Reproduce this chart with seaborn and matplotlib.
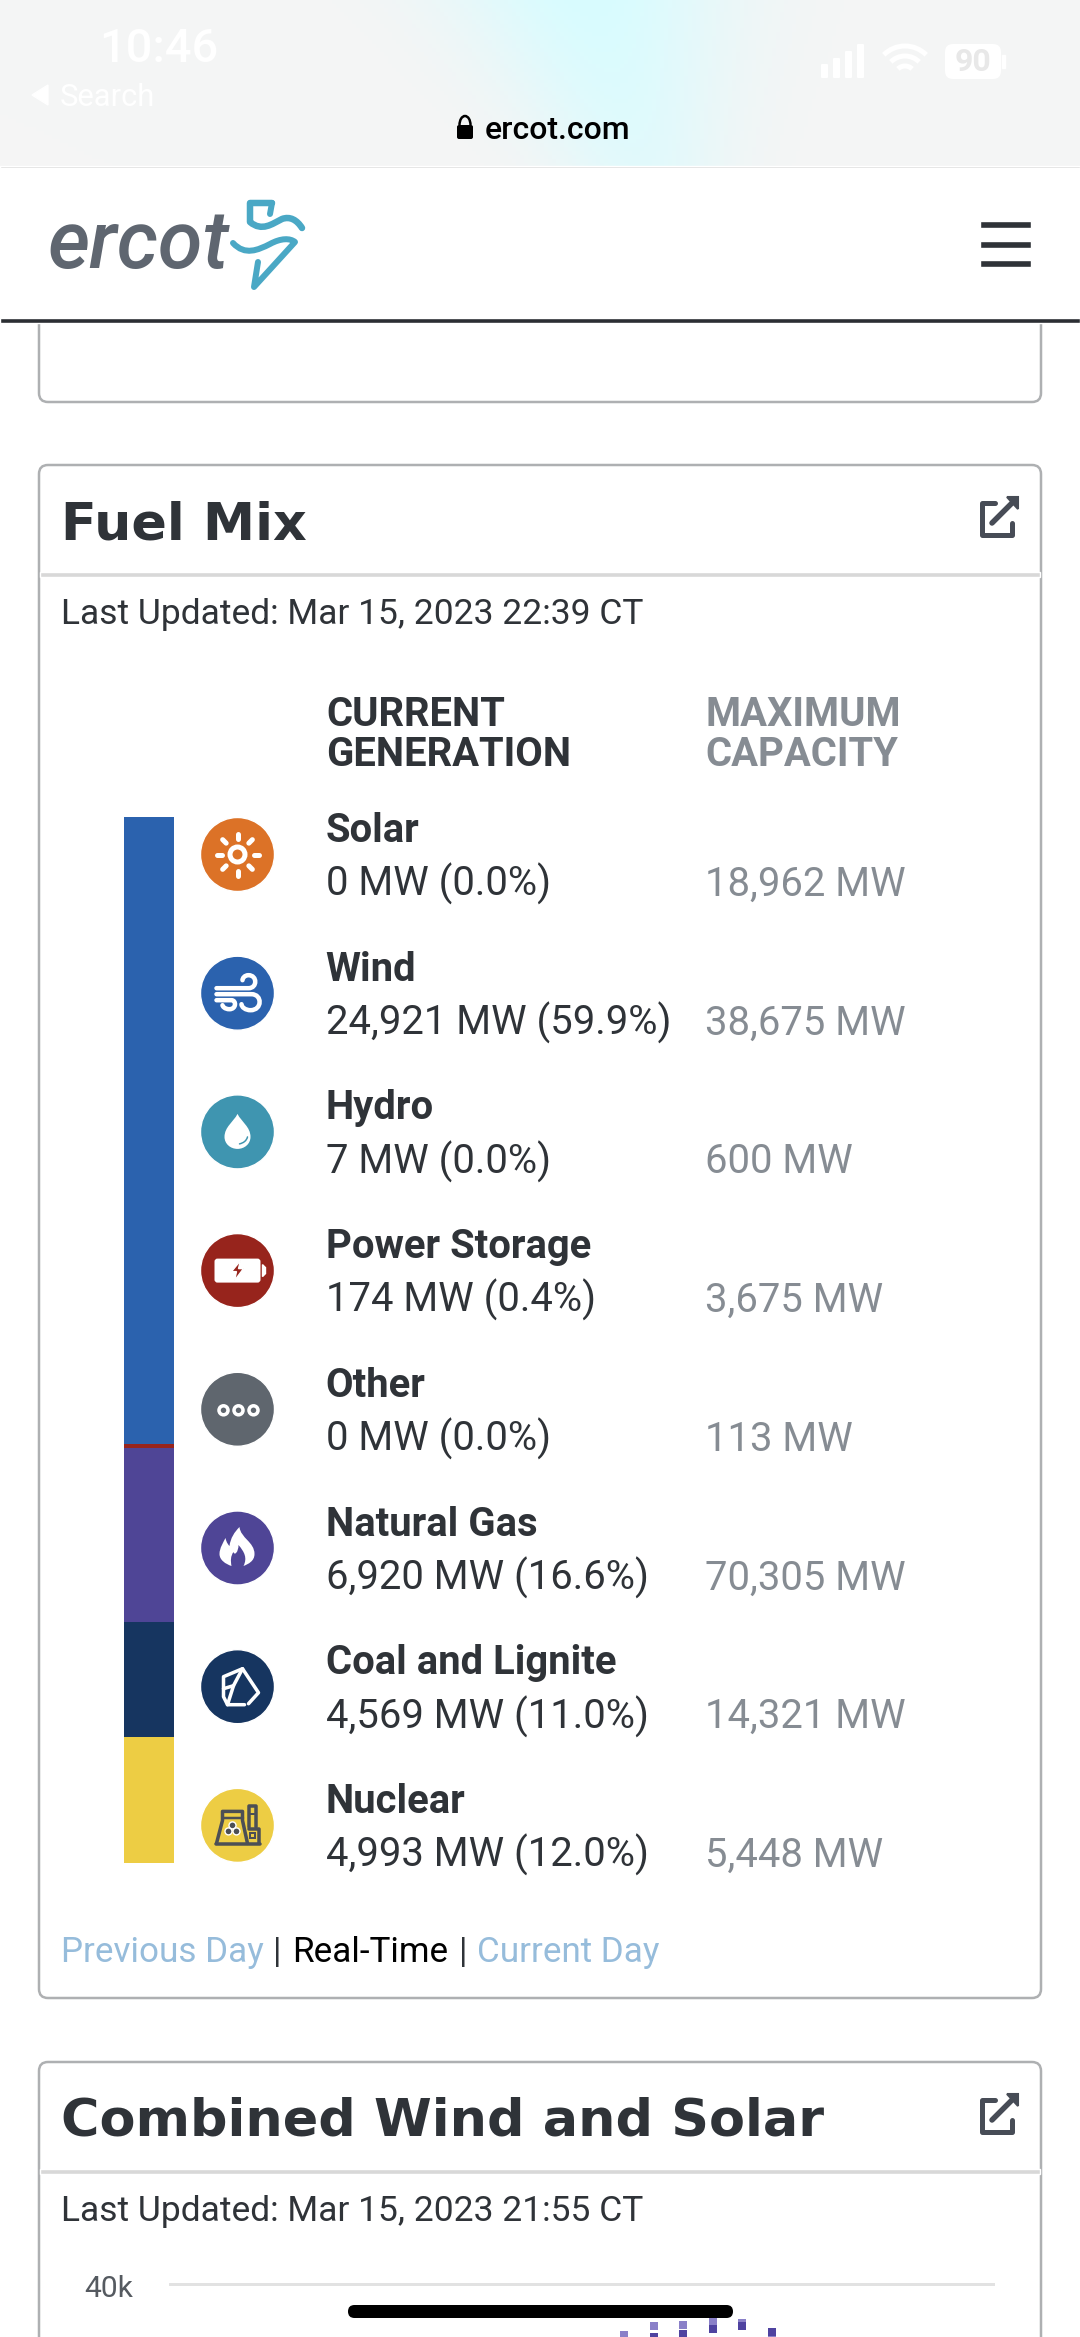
import numpy as np
import pandas as pd
import matplotlib
matplotlib.use("Agg")
import matplotlib.pyplot as plt
import seaborn as sns
from matplotlib.patches import Circle, FancyBboxPatch, PathPatch, Polygon, Rectangle, Arc
from matplotlib.path import Path
from matplotlib.colors import to_rgb
from matplotlib.transforms import ScaledTranslation

# Fuel mix values
fuels = ["Solar", "Wind", "Hydro", "Power Storage", "Other", "Natural Gas", "Coal and Lignite", "Nuclear"]
current_mw = [0, 24921, 7, 174, 0, 6920, 4569, 4993]
current_pct = ["0.0", "59.9", "0.0", "0.4", "0.0", "16.6", "11.0", "12.0"]
max_capacity = [18962, 38675, 600, 3675, 113, 70305, 14321, 5448]
fuel_colors = ["#dc7227", "#2b62ae", "#3f95b0", "#97241c", "#5f666e", "#4f4596", "#163560", "#edcd44"]

# Combined wind and solar chart, only the top of it is on screen
sample_light = [15, 16, 17, 18, 19, 20]
mw_light = [33.2, 34.4, 34.53, 34.93, 34.8, 32.95]
sample_dark = [16, 17, 18, 19, 20]
mw_dark = [32.95, 33.3, 34.0, 34.4, 33.6]
chart_ticks = [40]
chart_tick_labels = ["40k"]

W, H = 1080, 2337
DARK = "#2f3338"
GREY = "#868c93"
BORDER = "#aeb0b2"
LINK = "#96bcdb"
ICON = "#474c56"

sns.set_theme(style="white")
plt.rcParams["font.family"] = ["Roboto", "DejaVu Sans"]

fig = plt.figure(figsize=(W / 100, H / 100), dpi=100, facecolor="white")


def px_axes(x0, y0, x1, y1, zorder):
    return fig.add_axes([x0 / W, 1 - y1 / H, (x1 - x0) / W, (y1 - y0) / H], zorder=zorder)


page = px_axes(0, 0, W, H, 0)
page.set_xlim(0, W)
page.set_ylim(H, 0)
page.axis("off")


def lw(px):
    return px * 0.72


def fs(px):
    return px * 0.72


def curve(ax, verts, codes, cx=0, cy=0, color="white", fill=False, width=3, z=5):
    pts = [(cx + a, cy + b) for a, b in verts]
    ax.add_patch(PathPatch(Path(pts, codes), facecolor=color if fill else "none", edgecolor=color,
                           lw=lw(width) if width else 0, capstyle="round", joinstyle="round", zorder=z))


def polyline(ax, pts, cx=0, cy=0, color="white", width=3, z=5):
    ax.plot([cx + p[0] for p in pts], [cy + p[1] for p in pts], color=color, lw=lw(width),
            solid_capstyle="round", solid_joinstyle="round", zorder=z)


def box(ax, x0, y0, x1, y1, fc="none", ec="none", width=0, rad=8, z=2):
    ax.add_patch(FancyBboxPatch((x0 + rad, y0 + rad), x1 - x0 - 2 * rad, y1 - y0 - 2 * rad,
                                boxstyle=f"round,pad={rad},rounding_size={rad}", fc=fc, ec=ec, lw=lw(width), zorder=z))


# browser bar background
xx, yy = np.meshgrid(np.linspace(0, W, 270), np.linspace(0, 167, 42))
glow = np.exp(-((xx - (590 + yy * 0.3)) / (140 - yy * 0.3)) ** 2) * (1 - yy / 500)
base = np.array(to_rgb("#f5f5f5"))
tint = np.array(to_rgb("#d8fcff"))
page.imshow(base + glow[..., None] * (tint - base), extent=(0, W, 167, 0), aspect="auto", zorder=1)
page.set_xlim(0, W)
page.set_ylim(H, 0)
page.add_patch(Rectangle((0, 166), W, 2, fc="#cfcfcf", zorder=2))

page.text(99, 62, "10:46", color="white", fontsize=fs(47), fontweight="medium", zorder=3)
page.text(60, 106, "Search", color="white", fontsize=fs(31), zorder=3)
page.add_patch(Polygon([(32, 95), (48, 85), (48, 105)], fc="white", zorder=3))
for i, top in enumerate([65, 59, 52, 45]):
    page.add_patch(FancyBboxPatch((822 + i * 12, top), 5, 77 - top, boxstyle="round,pad=1", fc="white", ec="none", zorder=3))
for r in [10, 20, 30]:
    page.add_patch(Arc((905, 76), 2 * r, 2 * r, theta1=225, theta2=315, color="white", lw=lw(5), zorder=3))
box(page, 945, 44, 1001, 79, fc="white", rad=8, z=3)
page.add_patch(Rectangle((1002, 55), 3, 13, fc="white", zorder=3))
page.text(973, 62, "90", color="#e8e8e8", fontsize=fs(32), fontweight="bold", ha="center", va="center", zorder=4)

# lock + url
box(page, 457, 125, 473, 139, fc="black", rad=2, z=4)
page.add_patch(Arc((465, 125), 11, 18, theta1=180, theta2=360, color="black", lw=lw(2.5), zorder=4))
page.text(485, 139, "ercot.com", color="black", fontsize=fs(32), fontweight="medium", zorder=4)

# logo
page.text(48, 268, "ercot", color="#5f6670", fontsize=fs(81), fontweight="medium", fontstyle="italic", zorder=4)
MV, LN, C4 = Path.MOVETO, Path.LINETO, Path.CURVE4
LOGO = "#4aa8c5"
curve(page, [(272, 203), (250, 203), (250, 222), (262, 232), (272, 224), (282, 219), (290, 216), (297, 220), (302, 228)],
      [MV, LN, LN, C4, C4, C4, C4, C4, C4], color=LOGO, width=6.5)
polyline(page, [(272, 203), (270, 214)], color=LOGO, width=6)
curve(page, [(233, 243), (245, 256), (258, 250), (270, 244), (281, 238), (290, 238), (295, 242), (254, 287), (258, 262)],
      [MV, C4, C4, C4, C4, C4, C4, LN, LN], color=LOGO, width=6)

# hamburger
for y in [221, 241, 260]:
    page.add_patch(Rectangle((980, y), 51, 7, fc=DARK, zorder=4))

# cards
box(page, 39, 300, 1041, 402, fc="white", ec=BORDER, width=2.5, rad=9, z=2)
box(page, 39, 465, 1041, 1998, fc="white", ec=BORDER, width=2.5, rad=9, z=2)
box(page, 39, 2062, 1041, 2500, fc="white", ec=BORDER, width=2.5, rad=9, z=2)
page.add_patch(Rectangle((0, 168), W, 151, fc="white", zorder=3))
page.add_patch(Rectangle((0, 317.5), W, 5, fc="#2b2e33", zorder=4))


def ext_link(dy):
    polyline(page, [(995, 503 + dy), (982, 503 + dy), (982, 535 + dy), (1012, 535 + dy), (1012, 523 + dy)], color=ICON, width=5)
    polyline(page, [(992, 523 + dy), (1014, 501 + dy)], color=ICON, width=5.5)
    page.add_patch(Polygon([(1007, 497 + dy), (1018, 497 + dy), (1018, 509 + dy)], fc=ICON, ec=ICON, lw=1.5, zorder=5))


for title, updated, dy in [("Fuel Mix", "Last Updated: Mar 15, 2023 22:39 CT", 0),
                           ("Combined Wind and Solar", "Last Updated: Mar 15, 2023 21:55 CT", 1597)]:
    page.text(61, 539 + dy, title, color=DARK, fontsize=fs(52.4), fontweight="bold", family=["DejaVu Sans"], zorder=5)
    page.add_patch(Rectangle((40, 571.5 + dy), 1000, 5, fc="#d8d8d8", zorder=4))
    page.text(61, 624 + dy, updated, color=DARK, fontsize=fs(35.4), zorder=5)
    ext_link(dy)

# table headers
page.text(326, 726, "CURRENT", color=DARK, fontsize=fs(40), fontweight="bold", zorder=5)
page.text(326, 766, "GENERATION", color=DARK, fontsize=fs(40), fontweight="bold", zorder=5)
page.text(705, 726, "MAXIMUM", color=GREY, fontsize=fs(40), fontweight="bold", zorder=5)
page.text(705, 766, "CAPACITY", color=GREY, fontsize=fs(40), fontweight="bold", zorder=5)

# stacked bar
mix = pd.DataFrame({"fuel": fuels, "mw": current_mw, "color": fuel_colors})
mix["bottom"] = mix["mw"].cumsum() - mix["mw"]
bar_ax = px_axes(124, 817, 174, 1863, 3)
for _, row in mix.iterrows():
    sns.barplot(x=[0], y=[row["mw"]], bottom=row["bottom"], color=row["color"], saturation=1, width=1,
                linewidth=0, ax=bar_ax)
bar_ax.set_xlim(-0.5, 0.5)
bar_ax.set_ylim(mix["mw"].sum(), 0)
bar_ax.axis("off")


def icon_sun(cx, cy):
    page.add_patch(Circle((cx, cy), 7.5, fc="none", ec="white", lw=lw(5), zorder=5))
    for a in np.deg2rad(np.arange(0, 360, 45)):
        polyline(page, [(16 * np.cos(a), 16 * np.sin(a)), (21 * np.cos(a), 21 * np.sin(a))], cx, cy, width=5)


def icon_wind(cx, cy):
    curve(page, [(-21, -5), (11, -5), (20, -5), (20, -18), (11, -18), (7, -18), (5, -15), (5, -13)],
          [MV, LN, C4, C4, C4, C4, C4, C4], cx, cy, width=4.5)
    curve(page, [(-21, 1), (14, 1), (25, 1), (25, 17), (13, 17), (8, 17), (4, 14), (4, 11)],
          [MV, LN, C4, C4, C4, C4, C4, C4], cx, cy, width=4.5)
    curve(page, [(-21, 7), (-6, 7), (-1, 7), (-1, 16), (-8, 16), (-13, 16), (-15, 13), (-15, 12)],
          [MV, LN, C4, C4, C4, C4, C4, C4], cx, cy, width=4.5)


def icon_drop(cx, cy):
    curve(page, [(0, -18), (4, -10), (13, -5), (13, 5), (13, 12), (7, 17), (0, 17), (-7, 17), (-13, 12), (-13, 5), (-13, -5), (-4, -10), (0, -18)],
          [MV] + [C4] * 12, cx, cy, fill=True, width=0)
    curve(page, [(2, 12), (6, 11), (9, 9), (10, 5)], [MV, C4, C4, C4], cx, cy, color=fuel_colors[2], width=1.5, z=6)


def icon_battery(cx, cy):
    box(page, cx - 23, cy - 12, cx + 23, cy + 12, fc="white", rad=3, z=5)
    page.add_patch(Polygon([(cx + 25, cy - 6), (cx + 28, cy - 3), (cx + 28, cy + 3), (cx + 25, cy + 6)], fc="white", zorder=5))
    page.add_patch(Polygon([(cx + 3, cy - 10), (cx - 6, cy + 1), (cx - 1, cy + 1), (cx - 3, cy + 10), (cx + 6, cy - 2), (cx + 1, cy - 2)],
                           fc=fuel_colors[3], zorder=6))


def icon_other(cx, cy):
    for dx in [-14, 1, 16]:
        page.add_patch(Circle((cx + dx, cy + 1), 4.5, fc="none", ec="white", lw=lw(3.5), zorder=5))


def icon_flame(cx, cy):
    curve(page, [(2, -21), (3, -10), (17, -6), (17, 6), (17, 13), (11, 16), (6, 18), (10, 10), (7, 4), (1, -3),
                 (1, 4), (-3, 8), (-4, 4), (-7, 8), (-7, 13), (-6, 18), (-12, 16), (-18, 12), (-18, 6), (-18, 0), (-14, -6), (-12, -10),
                 (-11, -5), (-9, -3), (-8, -2), (-7, -10), (-3, -16), (2, -21)],
          [MV] + [C4] * 27, cx, cy, fill=True, width=0)


def icon_coal(cx, cy):
    polyline(page, [(11, 17), (21, 6), (5, -18), (-14, -10), (-14, 10), (-10, 18), (7, 18)], cx, cy, width=3.5)
    polyline(page, [(-14, 2), (-4, -1), (5, -18)], cx, cy, width=3.5)
    polyline(page, [(-4, -1), (-10, 18)], cx, cy, width=3.5)


def icon_nuclear(cx, cy):
    col = "#4c4f55"
    polyline(page, [(-22, 19), (22, 19)], cx, cy, color=col, width=3.5)
    polyline(page, [(-21, 18), (-15, -5), (-15, -14), (5, -14), (5, -5), (10, 18)], cx, cy, color=col, width=3.5)
    polyline(page, [(-15, -7), (5, -7)], cx, cy, color=col, width=2.5)
    polyline(page, [(11, 2), (11, -19), (18, -19), (18, 2)], cx, cy, color=col, width=3.5)
    polyline(page, [(11, -11), (18, -11)], cx, cy, color=col, width=2)
    polyline(page, [(11, 4), (21, 4), (21, 18)], cx, cy, color=col, width=3.5)
    page.add_patch(Rectangle((cx + 12, cy + 8), 5, 5, fc="none", ec=col, lw=lw(2), zorder=5))
    for dx, dy in [(-5, 0), (-9, 6), (-1, 6)]:
        page.add_patch(Circle((cx + dx, cy + dy), 3.5, fc=col, zorder=5))


icons = [icon_sun, icon_wind, icon_drop, icon_battery, icon_other, icon_flame, icon_coal, icon_nuclear]

ROW0, ROW_STEP = 854.5, 138.7
for i, fuel in enumerate(fuels):
    cy = ROW0 + i * ROW_STEP
    page.add_patch(Circle((237.5, cy), 37, fc=fuel_colors[i], zorder=4))
    icons[i](237.5, cy)
    page.text(325.5, cy - 12.5, fuel, color=DARK, fontsize=fs(40), fontweight="bold", zorder=5)
    page.text(325.5, cy + 41.5, f"{current_mw[i]:,} MW ({current_pct[i]}%)", color=DARK, fontsize=fs(40), zorder=5)
    page.text(705, cy + 41.5, f"{max_capacity[i]:,} MW", color=GREY, fontsize=fs(40), zorder=5)

# links under the table
for x, label, col in [(61, "Previous Day", LINK), (273, "|", DARK), (292, "Real-Time", "black"), (459, "|", DARK), (477, "Current Day", LINK)]:
    page.text(x, 1962, label, color=col, fontsize=fs(35), zorder=5)

# combined wind and solar, cut off by the screen
chart = px_axes(169, 2270, 995, H, 2)
chart.patch.set_alpha(0)
sns.scatterplot(x=sample_light, y=mw_light, marker="s", color="#8a80c8", s=28, linewidth=0, ax=chart, zorder=3)
sns.scatterplot(x=sample_dark, y=mw_dark, marker="s", color="#4f43a0", s=28, linewidth=0, ax=chart, zorder=4)
chart.set_xlim(-0.37, 27.53)
chart.set_ylim(40 - 53 / 7.5, 40 + 14 / 7.5)
chart.set_xticks([])
chart.set_yticks(chart_ticks)
chart.set_yticklabels(chart_tick_labels, fontsize=fs(30), color="#555a60")
chart.tick_params(axis="y", length=0, pad=26)
for lab in chart.get_yticklabels():
    lab.set_transform(lab.get_transform() + ScaledTranslation(0, -2 / 100, fig.dpi_scale_trans))
chart.grid(axis="y", color="#e2e2e2", lw=lw(3))
sns.despine(ax=chart, left=True, bottom=True)

# home indicator over everything
top = px_axes(0, 0, W, H, 10)
top.set_xlim(0, W)
top.set_ylim(H, 0)
top.axis("off")
box(top, 348, 2305, 733, 2318, fc="black", rad=6.5, z=5)

fig.savefig("out.png", dpi=100)
